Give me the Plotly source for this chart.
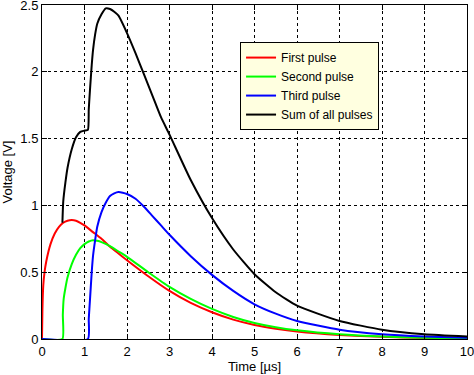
import plotly.graph_objects as go

# First pulse (red)
t_first = [0, 0.01, 0.03, 0.06, 0.1, 0.2, 0.3, 0.4, 0.5, 0.6, 0.7, 0.8, 0.9, 1.0, 1.2, 1.4, 1.6, 1.8, 2.0,
           2.5, 3.0, 3.5, 4.0, 4.5, 5.0, 5.5, 6.0, 7.0, 8.0, 9.0, 10.0]
v_first = [0, 0.22, 0.40, 0.50, 0.58, 0.71, 0.79, 0.84, 0.87, 0.885, 0.89, 0.885, 0.87, 0.85, 0.80, 0.75, 0.69, 0.64, 0.59,
           0.47, 0.36, 0.27, 0.20, 0.145, 0.105, 0.077, 0.056, 0.03, 0.016, 0.008, 0.004]

# Second pulse (green)
t_second = [0, 0.48, 0.49, 0.51, 0.55, 0.6, 0.7, 0.8, 0.9, 1.0, 1.1, 1.2, 1.3, 1.4, 1.6, 1.8, 2.0,
            2.5, 3.0, 3.5, 4.0, 4.5, 5.0, 5.5, 6.0, 7.0, 8.0, 9.0, 10.0]
v_second = [0, 0, 0.18, 0.30, 0.38, 0.46, 0.56, 0.63, 0.68, 0.71, 0.73, 0.74, 0.735, 0.725, 0.695, 0.655, 0.615,
            0.50, 0.39, 0.30, 0.225, 0.165, 0.12, 0.088, 0.065, 0.035, 0.018, 0.009, 0.005]

# Third pulse (blue)
t_third = [0, 1.08, 1.1, 1.13, 1.17, 1.2, 1.25, 1.3, 1.4, 1.5, 1.6, 1.7, 1.8, 1.9, 2.0, 2.2, 2.4, 2.6, 2.8,
           3.0, 3.5, 4.0, 4.5, 5.0, 5.5, 6.0, 7.0, 8.0, 9.0, 10.0]
v_third = [0, 0, 0.15, 0.30, 0.50, 0.62, 0.74, 0.84, 0.95, 1.02, 1.07, 1.09, 1.10, 1.095, 1.085, 1.05, 0.99, 0.92, 0.85,
           0.78, 0.62, 0.48, 0.36, 0.26, 0.19, 0.135, 0.07, 0.036, 0.019, 0.01]

# Sum of all pulses (black)
t_sum = [0.48, 0.5, 0.55, 0.6, 0.7, 0.8, 0.9, 1.0, 1.08, 1.1, 1.13, 1.17, 1.2, 1.25, 1.3, 1.4, 1.5, 1.6, 1.7, 1.8,
         2.0, 2.2, 2.4, 2.6, 2.8, 3.0, 3.5, 4.0, 4.5, 5.0, 5.5, 6.0, 7.0, 8.0, 9.0, 10.0]
v_sum = [0.87, 1.03, 1.17, 1.28, 1.42, 1.51, 1.55, 1.56, 1.565, 1.72, 1.87, 2.05, 2.16, 2.28, 2.36, 2.43, 2.475, 2.47, 2.45, 2.42,
         2.29, 2.14, 1.98, 1.82, 1.66, 1.53, 1.19, 0.905, 0.67, 0.485, 0.35, 0.25, 0.135, 0.07, 0.036, 0.019]

series = [
    ("First pulse", t_first, v_first, "#ff0000"),
    ("Second pulse", t_second, v_second, "#00ff00"),
    ("Third pulse", t_third, v_third, "#0000ff"),
    ("Sum of all pulses", t_sum, v_sum, "#000000"),
]

fig = go.Figure()
for name, t, v, c in series:
    fig.add_trace(go.Scatter(x=t, y=v, mode="lines", name=name, cliponaxis=False,
                             line=dict(color=c, width=2, shape="spline", smoothing=0.5)))

FONT = "Liberation Sans, Arial, Helvetica, sans-serif"
axis_common = dict(
    showline=True, linecolor="black", linewidth=1, mirror="ticks",
    ticks="inside", ticklen=5, tickcolor="black",
    showgrid=True, gridcolor="black", gridwidth=1, griddash="dot",
    zeroline=False, tickfont=dict(size=13, color="black", family=FONT),
    automargin=False, ticklabeloverflow="allow",
)

fig.update_layout(
    width=474, height=375,
    margin=dict(l=42, r=7, t=5, b=36, autoexpand=False),
    paper_bgcolor="white", plot_bgcolor="white",
    font=dict(family=FONT, size=13, color="black"),
    xaxis=dict(range=[0, 10], dtick=1, tick0=0,
               title=dict(text="Time [µs]", standoff=3, font=dict(size=13)), **axis_common),
    yaxis=dict(range=[0, 2.5], dtick=0.5, tick0=0,
               title=dict(text="Voltage [V]", standoff=6, font=dict(size=13)), **axis_common),
    legend=dict(x=0.466, y=0.889, xanchor="left", yanchor="top",
                bgcolor="#ffffe0", bordercolor="black", borderwidth=1,
                font=dict(size=12, family=FONT), tracegroupgap=0, itemwidth=30),
    showlegend=True,
)

fig.write_html("out.html", config={"displayModeBar": False},
               post_script="document.body.style.margin='0px';")
